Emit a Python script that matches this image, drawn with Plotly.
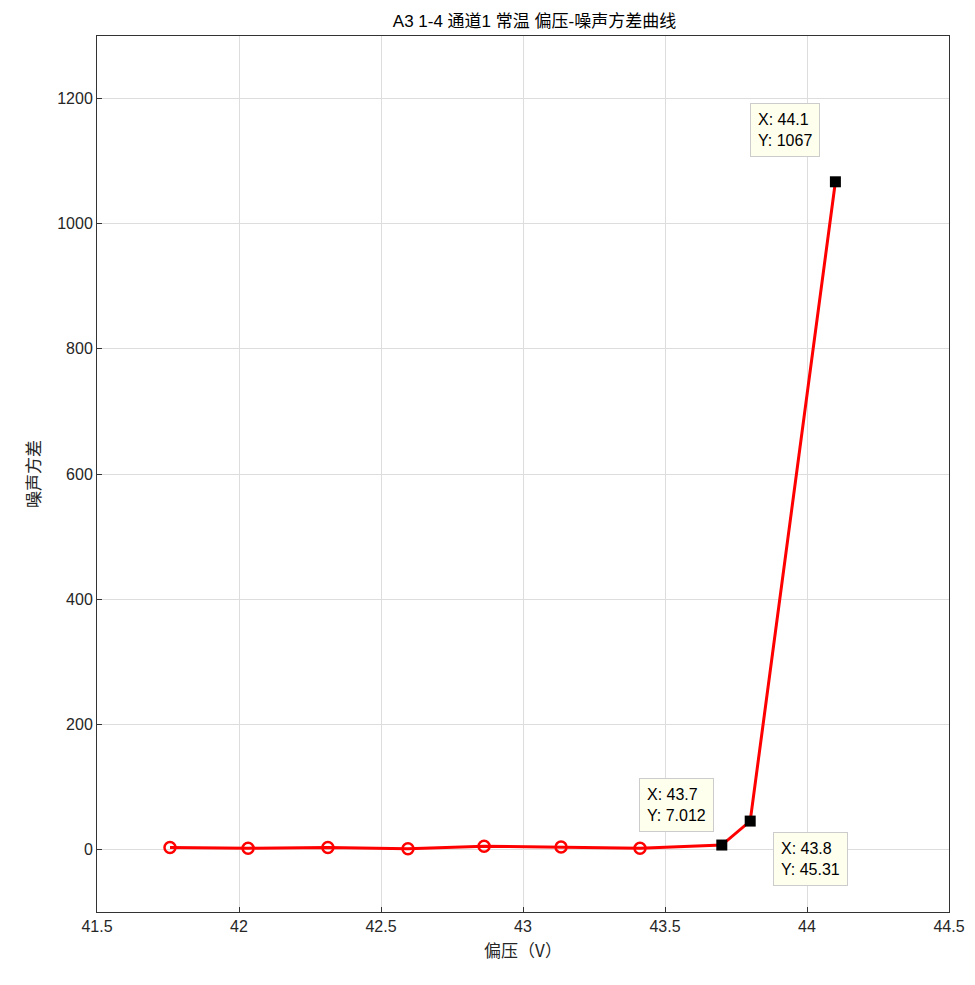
import plotly.graph_objects as go

x_circ = [41.757, 42.032, 42.313, 42.595, 42.863, 43.134, 43.412]
y_circ = [3, 2, 3, 1, 5, 4, 2]
x_tip = [43.7, 43.8, 44.1]
y_tip = [7.012, 45.31, 1067]
tip_labels = ["X: 43.7<br>Y: 7.012", "X: 43.8<br>Y: 45.31", "X: 44.1<br>Y: 1067"]
tip_offsets = [(-45, 40), (60, -38), (-50, 52)]

fig = go.Figure()
fig.add_trace(go.Scatter(x=x_circ + x_tip, y=y_circ + y_tip, mode="lines",
                         line=dict(color="#ff0000", width=3), showlegend=False))
fig.add_trace(go.Scatter(x=x_circ, y=y_circ, mode="markers",
                         marker=dict(symbol="circle-open", size=11, color="#ff0000", line=dict(width=2.5)),
                         showlegend=False))
fig.add_trace(go.Scatter(x=x_tip, y=y_tip, mode="markers",
                         marker=dict(symbol="square", size=11, color="black"), showlegend=False))
for xv, yv, t, (ax, ay) in zip(x_tip, y_tip, tip_labels, tip_offsets):
    fig.add_annotation(x=xv, y=yv, text=t, showarrow=False, xshift=ax, yshift=ay, align="left",
                       bgcolor="#ffffee", bordercolor="#cccccc", borderwidth=1, borderpad=7,
                       font=dict(family="Liberation Sans", size=16, color="black"))

axis = dict(showgrid=True, gridcolor="#dddddd", showline=True, linecolor="#333333", mirror=True,
            ticks="inside", ticklen=5, tickcolor="#333333", zeroline=False,
            tickfont=dict(family="Liberation Sans", size=16, color="#262626"))
fig.update_layout(
    width=975, height=985, plot_bgcolor="white", paper_bgcolor="white",
    margin=dict(l=89, r=34, t=28, b=81),
    title=dict(text="A3 1-4 通道1 常温 偏压-噪声方差曲线", x=0.54, xanchor="center", y=0.993, yanchor="top",
               font=dict(family="Liberation Sans, Noto Sans CJK SC", size=17, color="black")),
    xaxis=dict(axis, range=[41.5, 44.5], dtick=0.5,
               title=dict(text="偏压（V）", standoff=10, font=dict(family="Noto Sans CJK SC", size=17, color="#262626"))),
    yaxis=dict(axis, range=[-100, 1300], tickvals=[0, 200, 400, 600, 800, 1000, 1200],
               title=dict(text="噪声方差", standoff=12, font=dict(family="Noto Sans CJK SC", size=17, color="#262626"))),
)
fig.write_html("out.html")
